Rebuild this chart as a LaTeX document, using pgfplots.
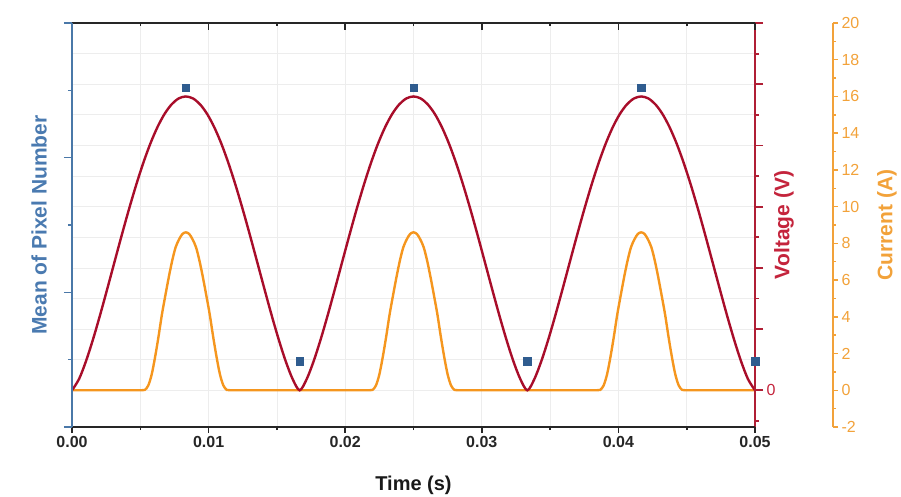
\documentclass[border=0pt]{standalone}
\usepackage{fontspec}
\setmainfont{Liberation Sans}
\usepackage{pgfplots}
\usepackage{pgfplotstable}
\pgfplotsset{compat=1.18}
\definecolor{blueax}{HTML}{4A78A8}
\definecolor{bluelb}{HTML}{4A7AB0}
\definecolor{bluemk}{HTML}{2F5C8F}
\definecolor{redax}{HTML}{B01F35}
\definecolor{redlb}{HTML}{C4243C}
\definecolor{redln}{HTML}{A80D2A}
\definecolor{orgln}{HTML}{F5961E}
\definecolor{orgax}{HTML}{F2A23A}

\pgfplotstableread{
t v
0 0
0.000521 0.186
0.001042 0.487
0.001563 0.850
0.002083 1.251
0.002604 1.675
0.003125 2.108
0.003646 2.538
0.004167 2.955
0.004688 3.347
0.005208 3.707
0.005729 4.026
0.00625 4.296
0.006771 4.513
0.007292 4.671
0.007813 4.768
0.008333 4.8
0.008854 4.768
0.009375 4.671
0.009896 4.513
0.010417 4.296
0.010938 4.026
0.011458 3.707
0.011979 3.347
0.0125 2.955
0.013021 2.538
0.013542 2.108
0.014063 1.675
0.014583 1.251
0.015104 0.850
0.015625 0.487
0.016146 0.186
0.016667 0
0.017188 0.186
0.017708 0.487
0.018229 0.850
0.01875 1.251
0.019271 1.675
0.019792 2.108
0.020313 2.538
0.020833 2.955
0.021354 3.347
0.021875 3.707
0.022396 4.026
0.022917 4.296
0.023438 4.513
0.023958 4.671
0.024479 4.768
0.025 4.8
0.025521 4.768
0.026042 4.671
0.026563 4.513
0.027083 4.296
0.027604 4.026
0.028125 3.707
0.028646 3.347
0.029167 2.955
0.029688 2.538
0.030208 2.108
0.030729 1.675
0.03125 1.251
0.031771 0.850
0.032292 0.487
0.032813 0.186
0.033333 0
0.033854 0.186
0.034375 0.487
0.034896 0.850
0.035417 1.251
0.035938 1.675
0.036458 2.108
0.036979 2.538
0.0375 2.955
0.038021 3.347
0.038542 3.707
0.039063 4.026
0.039583 4.296
0.040104 4.513
0.040625 4.671
0.041146 4.768
0.041667 4.8
0.042188 4.768
0.042708 4.671
0.043229 4.513
0.04375 4.296
0.044271 4.026
0.044792 3.707
0.045313 3.347
0.045833 2.955
0.046354 2.538
0.046875 2.108
0.047396 1.675
0.047917 1.251
0.048438 0.850
0.048958 0.487
0.049479 0.186
0.05 0
}\voltage

\pgfplotstableread{
t i
0 0
0.0025 0
0.004833 0
0.005083 0
0.005333 0.02
0.005583 0.26
0.005833 0.86
0.006083 1.81
0.006333 2.92
0.006583 4.13
0.006833 5.16
0.007083 6.15
0.007333 7.05
0.007583 7.78
0.007833 8.21
0.008083 8.51
0.008333 8.60
0.008583 8.51
0.008833 8.21
0.009083 7.78
0.009333 7.05
0.009583 6.15
0.009833 5.16
0.010083 4.13
0.010333 2.92
0.010583 1.81
0.010833 0.86
0.011083 0.26
0.011333 0.02
0.011583 0
0.011833 0
0.0167 0
0.0215 0
0.02175 0
0.022 0.02
0.02225 0.26
0.0225 0.86
0.02275 1.81
0.023 2.92
0.02325 4.13
0.0235 5.16
0.02375 6.15
0.024 7.05
0.02425 7.78
0.0245 8.21
0.02475 8.51
0.025 8.60
0.02525 8.51
0.0255 8.21
0.02575 7.78
0.026 7.05
0.02625 6.15
0.0265 5.16
0.02675 4.13
0.027 2.92
0.02725 1.81
0.0275 0.86
0.02775 0.26
0.028 0.02
0.02825 0
0.0285 0
0.0333 0
0.038167 0
0.038417 0
0.038667 0.02
0.038917 0.26
0.039167 0.86
0.039417 1.81
0.039667 2.92
0.039917 4.13
0.040167 5.16
0.040417 6.15
0.040667 7.05
0.040917 7.78
0.041167 8.21
0.041417 8.51
0.041667 8.60
0.041917 8.51
0.042167 8.21
0.042417 7.78
0.042667 7.05
0.042917 6.15
0.043167 5.16
0.043417 4.13
0.043667 2.92
0.043917 1.81
0.044167 0.86
0.044417 0.26
0.044667 0.02
0.044917 0
0.045167 0
0.0475 0
0.05 0
}\current

\pgfplotstableread{
t m
0.008333 2.52
0.016667 0.49
0.025 2.52
0.033333 0.49
0.041667 2.52
0.05 0.49
}\pixel

\pgfplotsset{base/.style={scale only axis, width=683pt, height=404pt, xmin=0, xmax=0.05, scaled x ticks=false, scaled y ticks=false}}

\begin{document}
\begin{tikzpicture}
% grid
\begin{axis}[base, ymin=-0.6, ymax=6,
  xtick={0,0.01,0.02,0.03,0.04,0.05}, minor x tick num=1,
  ytick={0,1,2,3,4,5,6}, minor ytick={0.5,1.5,2.5,3.5,4.5,5.5},
  xticklabels={}, yticklabels={},
  axis line style={draw=none}, major tick length=0pt, minor tick length=0pt,
  grid=both, grid style={line width=0.7pt, black!7}, minor grid style={line width=0.7pt, black!7}]
\addplot[draw=none] coordinates {(0,0)};
\end{axis}
% current
\begin{axis}[base, ymin=-2, ymax=20, hide axis]
\addplot[orgln, line width=2.4pt, smooth, tension=0.5] table[x=t, y=i] {\current};
\end{axis}
% voltage curve
\begin{axis}[base, ymin=-0.6, ymax=6, hide axis]
\addplot[redln, line width=2.4pt, smooth] table[x=t, y=v] {\voltage};
\end{axis}
% red right axis
\begin{axis}[base, ymin=-0.6, ymax=6, hide x axis, axis y line*=right,
  ytick={0,1,2,3,4,5,6}, minor ytick={-0.5,0.5,1.5,2.5,3.5,4.5,5.5},
  yticklabels={0,{},{},{},{},{},{}},
  tick align=outside, major tick length=8pt, minor tick length=4pt,
  y axis line style={redax, line width=2.5pt},
  tick style={redax, line width=1.8pt},
  yticklabel style={text=redlb, font=\fontsize{16}{19}\selectfont},
  ylabel={Voltage (V)},
  ylabel style={at={(rel axis cs:1,0.5)}, anchor=center, yshift=-29pt, text=redlb, font=\fontsize{21}{25}\selectfont\bfseries}]
\addplot[draw=none] coordinates {(0,0)};
\end{axis}
% top x line
\begin{axis}[base, ymin=0, ymax=1, hide y axis, axis x line*=top,
  xtick={0,0.01,0.02,0.03,0.04,0.05}, minor x tick num=1, xticklabels={},
  tick align=inside, major tick length=7pt, minor tick length=3pt,
  x axis line style={black!85, line width=2.5pt},
  tick style={black!85, line width=1.6pt}]
\addplot[draw=none] coordinates {(0,0)};
\end{axis}
% bottom x line
\begin{axis}[base, ymin=0, ymax=1, hide y axis, axis x line*=bottom,
  xtick={0,0.01,0.02,0.03,0.04,0.05}, minor x tick num=1,
  xticklabels={0.00,0.01,0.02,0.03,0.04,0.05},
  tick align=outside, major tick length=6pt, minor tick length=3pt,
  x axis line style={black!85, line width=2.5pt},
  tick style={black!85, line width=1.6pt},
  xticklabel style={text=black!85, font=\fontsize{16}{19}\selectfont\bfseries},
  xlabel={Time (s)},
  xlabel style={at={(rel axis cs:0.5,0)}, anchor=center, yshift=-58pt, text=black!90, font=\fontsize{20}{24}\selectfont\bfseries}]
\addplot[draw=none] coordinates {(0,0)};
\end{axis}
% blue left axis + markers
\begin{axis}[base, ymin=0, ymax=3, hide x axis, axis y line*=left,
  ytick={0,1,2,3}, minor y tick num=1, yticklabels={},
  tick align=outside, major tick length=8pt, minor tick length=4pt,
  y axis line style={blueax, line width=2.5pt},
  tick style={blueax, line width=1.6pt},
  ylabel={Mean of Pixel Number},
  ylabel style={at={(rel axis cs:0,0.5)}, anchor=center, yshift=33pt, text=bluelb, font=\fontsize{21}{25}\selectfont\bfseries}]
\addplot[only marks, mark=square*, mark size=3.8pt, mark options={fill=bluemk, draw=bluemk}] table[x=t, y=m] {\pixel};
\end{axis}
% orange axis
\begin{axis}[base, at={(78pt,0pt)}, ymin=-2, ymax=20, hide x axis, axis y line*=right,
  ytick={-2,0,2,4,6,8,10,12,14,16,18,20},
  yticklabels={-2,0,2,4,6,8,10,12,14,16,18,20},
  minor y tick num=1,
  tick align=outside, major tick length=5pt, minor tick length=3pt,
  y axis line style={orgax, line width=2.2pt},
  tick style={orgax, line width=1.5pt},
  yticklabel style={text=orgax, font=\fontsize{16}{19}\selectfont},
  ylabel={Current (A)},
  ylabel style={at={(rel axis cs:1,0.5)}, anchor=center, yshift=-54pt, text=orgax, font=\fontsize{21}{25}\selectfont\bfseries}]
\addplot[draw=none] coordinates {(0,0)};
\end{axis}
\pgfresetboundingbox
\path (-72pt,-69pt) rectangle (829pt,427pt);
\end{tikzpicture}
\end{document}
